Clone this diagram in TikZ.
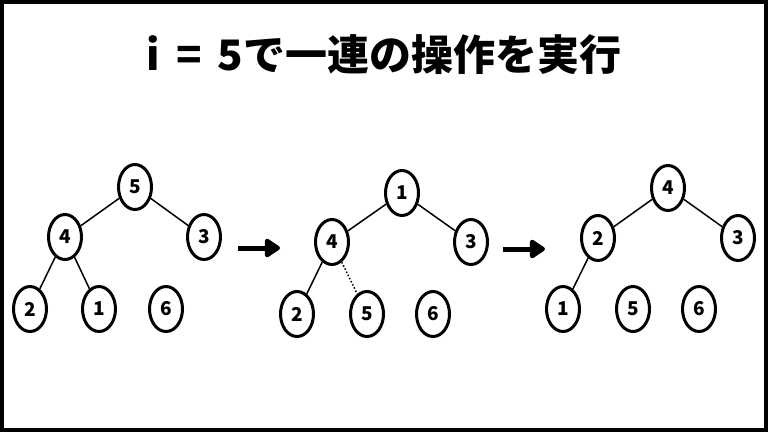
\documentclass[tikz,border=0pt]{standalone}
\usepackage{fontspec}
\setmainfont{Noto Sans}
\newfontfamily\cjkfont{Noto Sans CJK JP}
\usetikzlibrary{arrows.meta,shapes.geometric}
\begin{document}
\begin{tikzpicture}[x=1pt,y=-1pt,
  hnode/.style={draw=black,line width=3pt,ellipse,minimum width=33pt,minimum height=45pt,inner sep=0pt,font=\cjkfont\bfseries\fontsize{19}{19}\selectfont},
  edge/.style={line width=1.5pt},
  dotedge/.style={line width=1.5pt,dotted},
  bigarrow/.style={line width=5pt,-{Triangle[length=17pt,width=21pt,round]}}]
\useasboundingbox (0,0) rectangle (768,432);
\fill[white] (0,0) rectangle (768,432);
\draw[line width=4pt] (2,2) rectangle (766,430);
\node (title) at (384,55) {\cjkfont\bfseries\fontsize{42}{42}\selectfont i\hspace{16pt}=\hspace{16pt}5で一連の操作を実行};
% tree 1
\node[hnode] (a5) at (135,187) {5};
\node[hnode] (a4) at (65,237) {4};
\node[hnode] (a3) at (204,237) {3};
\node[hnode] (a2) at (30,309) {2};
\node[hnode] (a1) at (99,309) {1};
\node[hnode] (a6) at (166,309) {6};
\draw[edge] (a5) -- (a4);
\draw[edge] (a5) -- (a3);
\draw[edge] (a4) -- (a2);
\draw[edge] (a4) -- (a1);
% arrow 1
\coordinate (p1s) at (238,248);
\coordinate (p1e) at (280,248);
\draw[bigarrow] (p1s) -- (p1e);
% tree 2
\node[hnode] (b1) at (402,193) {1};
\node[hnode] (b4) at (332,242) {4};
\node[hnode] (b3) at (471,242) {3};
\node[hnode] (b2) at (297,314) {2};
\node[hnode] (b5) at (367,314) {5};
\node[hnode] (b6) at (433,314) {6};
\draw[edge] (b1) -- (b4);
\draw[edge] (b1) -- (b3);
\draw[edge] (b4) -- (b2);
\draw[dotedge] (b4) -- (b5);
% arrow 2
\coordinate (p2s) at (503,249);
\coordinate (p2e) at (545,249);
\draw[bigarrow] (p2s) -- (p2e);
% tree 3
\node[hnode] (c4) at (668,188) {4};
\node[hnode] (c2) at (598,238) {2};
\node[hnode] (c3) at (738,238) {3};
\node[hnode] (c1) at (563,309) {1};
\node[hnode] (c5) at (633,309) {5};
\node[hnode] (c6) at (699,309) {6};
\draw[edge] (c4) -- (c2);
\draw[edge] (c4) -- (c3);
\draw[edge] (c2) -- (c1);
\end{tikzpicture}
\end{document}
